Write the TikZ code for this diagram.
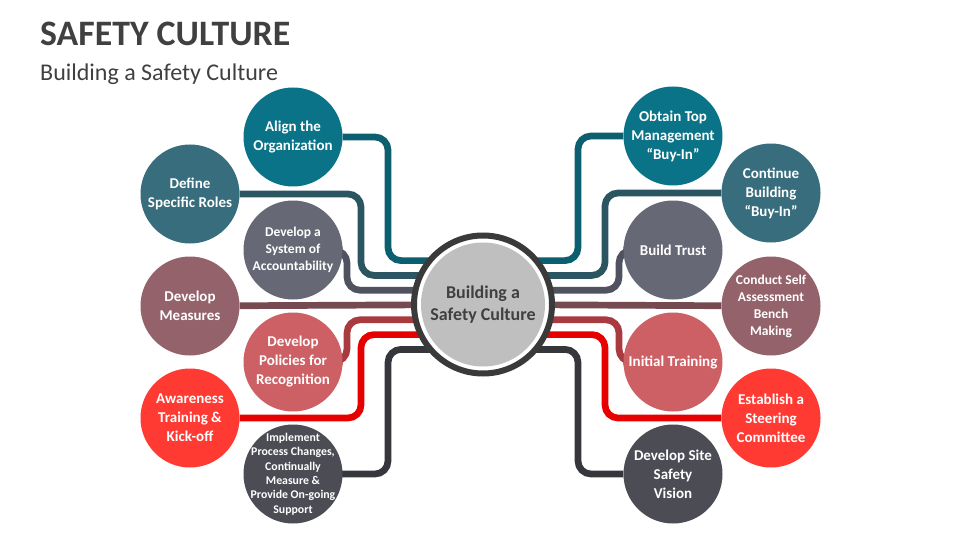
\documentclass[tikz,border=0pt]{standalone}
\usepackage{fontspec}
\setmainfont{Carlito}
\usetikzlibrary{backgrounds}
\definecolor{titlegray}{HTML}{404040}
\definecolor{ringgray}{HTML}{3A3A3A}
\definecolor{hubgray}{HTML}{BFBFBF}
\definecolor{cA}{HTML}{0B7387}\definecolor{lA}{HTML}{0B5F6E}
\definecolor{cB}{HTML}{386D7D}\definecolor{lB}{HTML}{2B5561}
\definecolor{cC}{HTML}{666875}\definecolor{lC}{HTML}{50525F}
\definecolor{cD}{HTML}{94626A}\definecolor{lD}{HTML}{754A50}
\definecolor{cE}{HTML}{CC6064}\definecolor{lE}{HTML}{A93A3F}
\definecolor{cF}{HTML}{FF3A33}\definecolor{lF}{HTML}{E60000}
\definecolor{cG}{HTML}{4C4C55}\definecolor{lG}{HTML}{36373D}
\begin{document}
\begin{tikzpicture}[x=1pt,y=-1pt,
  bubble/.style={circle, minimum size=99pt, inner sep=0pt, align=center, text=white,
    font=\bfseries\fontsize{15}{19}\selectfont},
  smalltext/.style={font=\bfseries\fontsize{13.5}{16.7}\selectfont},
  tinytext/.style={inner sep=-14pt, font=\bfseries\fontsize{11.8}{14.4}\selectfont},
  midtext/.style={font=\bfseries\fontsize{13.5}{17}\selectfont},
  link/.style={line width=6.7pt, rounded corners=13pt},
]
\useasboundingbox (0,0) rectangle (960,540);

\node[anchor=base west, inner sep=0pt, text=titlegray, font=\bfseries\fontsize{35.8}{40}\selectfont] (title) at (40,45.5) {SAFETY CULTURE};
\node[anchor=base west, inner sep=0pt, text=titlegray, font=\fontsize{24}{28}\selectfont] (subtitle) at (40,80.7) {Building a Safety Culture};

% hub
\node[circle, minimum size=138pt, inner sep=0pt, draw=ringgray, line width=6pt, fill=white,
  path picture={\fill[hubgray] (path picture bounding box.center) circle[radius=62pt];},
  align=center, text=titlegray, font=\bfseries\fontsize{18}{22}\selectfont] (hub) at (483,304.5) {Building a\\Safety Culture};

% left side
\node[bubble, fill=cA] (align) at (293,137) {Align the\\Organization};
\node[bubble, fill=cB] (define) at (190,194) {Define\\Specific Roles};
\node[bubble, fill=cC, smalltext] (account) at (293,250) {Develop a\\System of\\Accountability};
\node[bubble, fill=cD] (measures) at (190,306) {Develop\\Measures};
\node[bubble, fill=cE] (policies) at (293,362) {Develop\\Policies for\\Recognition};
\node[bubble, fill=cF] (aware) at (190,418) {Awareness\\Training \&\\Kick-off};
\node[bubble, fill=cG, tinytext] (implement) at (293,474) {Implement\\Process Changes,\\Continually\\Measure \&\\Provide On-going\\Support};

% right side
\node[bubble, fill=cA] (obtain) at (673,136) {Obtain Top\\Management\\``Buy-In''};
\node[bubble, fill=cB] (continue) at (771,193) {Continue\\Building\\``Buy-In''};
\node[bubble, fill=cC] (trust) at (673,250) {Build Trust};
\node[bubble, fill=cD, midtext] (conduct) at (771,306) {Conduct Self\\Assessment\\Bench\\Making};
\node[bubble, fill=cE] (initial) at (673,362) {Initial Training};
\node[bubble, fill=cF] (steering) at (771,418) {Establish a\\Steering\\Committee};
\node[bubble, fill=cG] (vision) at (673,474) {Develop Site\\Safety\\Vision};

\begin{scope}[on background layer]
  % left connectors
  \draw[link, draw=lA] (align) -- (388,137) -- (388,260.6) -- (hub.center |- 0,260.6);
  \draw[link, draw=lB] (define) -- (361,194) -- (361,275.4) -- (hub.center |- 0,275.4);
  \draw[link, draw=lC] (account) -- (347,250) -- (347,290.2) -- (hub.center |- 0,290.2);
  \draw[link, draw=lD] (measures) -- (hub);
  \draw[link, draw=lE] (policies) -- (347,362) -- (347,319.8) -- (hub.center |- 0,319.8);
  \draw[link, draw=lF] (aware) -- (361,418) -- (361,334.6) -- (hub.center |- 0,334.6);
  \draw[link, draw=lG] (implement.center) -- (388,474) -- (388,349.4) -- (hub.center |- 0,349.4);
  % right connectors
  \draw[link, draw=lA] (obtain) -- (578,136) -- (578,260.6) -- (hub.center |- 0,260.6);
  \draw[link, draw=lB] (continue) -- (605,193) -- (605,275.4) -- (hub.center |- 0,275.4);
  \draw[link, draw=lC] (trust) -- (619,250) -- (619,290.2) -- (hub.center |- 0,290.2);
  \draw[link, draw=lD] (conduct) -- (hub);
  \draw[link, draw=lE] (initial) -- (619,362) -- (619,319.8) -- (hub.center |- 0,319.8);
  \draw[link, draw=lF] (steering) -- (605,418) -- (605,334.6) -- (hub.center |- 0,334.6);
  \draw[link, draw=lG] (vision) -- (578,474) -- (578,349.4) -- (hub.center |- 0,349.4);
\end{scope}
\end{tikzpicture}
\end{document}
